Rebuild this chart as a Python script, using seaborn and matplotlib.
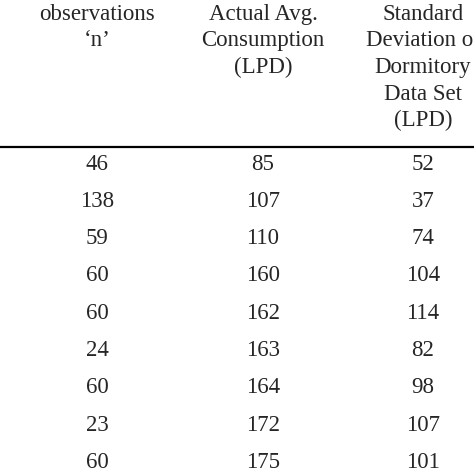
import matplotlib
matplotlib.use("Agg")
import matplotlib.pyplot as plt
import seaborn as sns

n_obs = [46, 138, 59, 60, 60, 24, 60, 23, 60]
avg_cons = [85, 107, 110, 160, 162, 163, 164, 172, 175]
std_dev = [52, 37, 74, 104, 114, 82, 98, 107, 101]
headers = [["observations", "\u2018n\u2019"],
           ["Actual Avg.", "Consumption", "(LPD)"],
           ["Standard", "Deviation of", "Dormitory", "Data Set", "(LPD)"]]

sns.set_style("white")
plt.rcParams['font.family'] = ['Liberation Serif', 'DejaVu Serif']

fig = plt.figure(figsize=(4.74, 4.74), dpi=100)
ax = fig.add_axes([0, 0, 1, 1])
ax.set_xlim(0, 474)
ax.set_ylim(474, 0)
ax.axis("off")

col_x = [97, 263, 423]
fs = 16.5
for x, lines in zip(col_x, headers):
    for i, t in enumerate(lines):
        ax.text(x, 14 + i * 26.7, t, ha="center", va="center", fontsize=fs, clip_on=True)

ax.axhline(147, color="black", lw=1.6)

for i, vals in enumerate(zip(n_obs, avg_cons, std_dev)):
    y = 164 + i * 37.3
    for x, v in zip(col_x, vals):
        ax.text(x, y, str(v), ha="center", va="center", fontsize=fs, clip_on=True)

fig.savefig("out.png", dpi=100)
